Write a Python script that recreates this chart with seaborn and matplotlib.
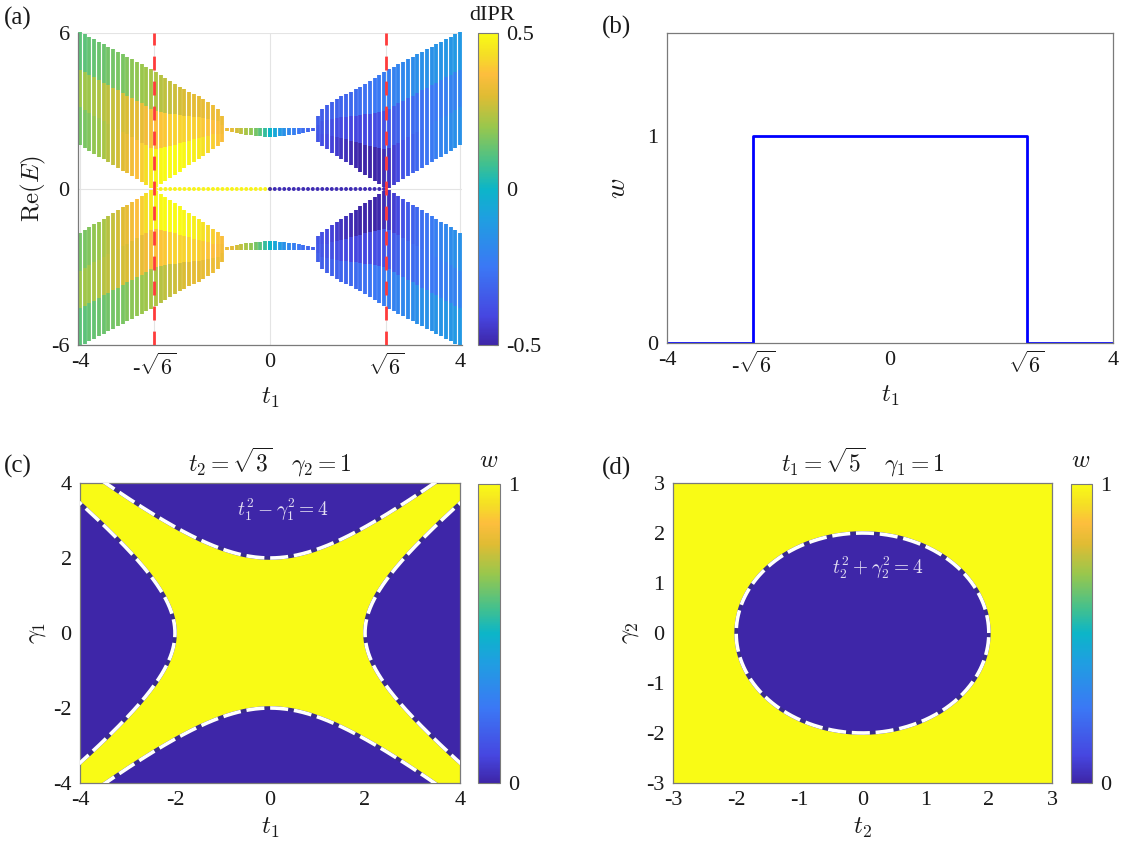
import numpy as np
import pandas as pd
import matplotlib
matplotlib.use("Agg")
import matplotlib.pyplot as plt
from matplotlib.colors import LinearSegmentedColormap, Normalize
from matplotlib.cm import ScalarMappable
import seaborn as sns

sns.set_theme(style="white")
plt.rcParams["font.family"] = "serif"
plt.rcParams["font.serif"] = ["Liberation Serif", "DejaVu Serif"]
plt.rcParams["mathtext.fontset"] = "cm"
plt.rcParams["axes.unicode_minus"] = False

SQ6 = 6 ** 0.5

# ---------------- data: panel (a), columns for t1 >= 0 (t1 < 0 is the mirror, dIPR flips sign)
t1_col = [0.0, 0.1, 0.2, 0.3, 0.4, 0.5, 0.6, 0.7, 0.8, 0.9,
          1.0, 1.1, 1.2, 1.3, 1.4, 1.5, 1.6, 1.7, 1.8, 1.9,
          2.0, 2.1, 2.2, 2.3, 2.4, 2.5, 2.6, 2.7, 2.8, 2.9,
          3.0, 3.1, 3.2, 3.3, 3.4, 3.5, 3.6, 3.7, 3.8, 3.9, 4.0]
# inner / outer edge of the positive Re(E) band
e_in = [2.00, 2.00, 2.02, 2.04, 2.06, 2.09, 2.12, 2.16, 2.20, 2.24,
        1.80, 1.65, 1.53, 1.40, 1.28, 1.16, 1.04, 0.92, 0.79, 0.67,
        0.55, 0.43, 0.31, 0.18, 0.06, 0.05, 0.16, 0.27, 0.38, 0.49,
        0.60, 0.71, 0.82, 0.93, 1.04, 1.14, 1.25, 1.36, 1.47, 1.58, 1.69]
e_out = [2.33, 2.33, 2.33, 2.33, 2.33, 2.33, 2.33, 2.33, 2.33, 2.33,
         2.80, 3.08, 3.23, 3.36, 3.46, 3.56, 3.65, 3.74, 3.83, 3.93,
         4.03, 4.14, 4.25, 4.37, 4.49, 4.60, 4.70, 4.80, 4.90, 4.99,
         5.09, 5.18, 5.28, 5.37, 5.47, 5.57, 5.66, 5.76, 5.85, 5.95, 6.04]
# dIPR read at inner edge, middle and outer edge of each column
d_in = [0.00, -0.06, -0.11, -0.15, -0.19, -0.22, -0.25, -0.28, -0.31, -0.33,
        -0.36, -0.38, -0.40, -0.42, -0.44, -0.46, -0.47, -0.48, -0.49, -0.50,
        -0.50, -0.50, -0.50, -0.49, -0.48, -0.46, -0.43, -0.40, -0.37, -0.34,
        -0.32, -0.30, -0.28, -0.26, -0.24, -0.22, -0.20, -0.19, -0.17, -0.16, -0.15]
d_mid = [0.00, -0.06, -0.11, -0.15, -0.19, -0.22, -0.25, -0.28, -0.31, -0.33,
         -0.35, -0.36, -0.37, -0.38, -0.39, -0.40, -0.40, -0.41, -0.41, -0.41,
         -0.41, -0.40, -0.39, -0.38, -0.37, -0.35, -0.34, -0.32, -0.31, -0.30,
         -0.29, -0.28, -0.27, -0.26, -0.25, -0.24, -0.23, -0.22, -0.21, -0.21, -0.20]
d_out = [0.00, -0.06, -0.11, -0.15, -0.19, -0.22, -0.25, -0.28, -0.31, -0.33,
         -0.33, -0.33, -0.33, -0.32, -0.32, -0.31, -0.31, -0.30, -0.29, -0.28,
         -0.27, -0.26, -0.25, -0.24, -0.23, -0.22, -0.21, -0.20, -0.19, -0.18,
         -0.17, -0.16, -0.16, -0.15, -0.15, -0.14, -0.14, -0.13, -0.13, -0.12, -0.12]
# zero-energy edge modes (t1 >= 0 side)
t1_zero = [0.0, 0.1, 0.2, 0.3, 0.4, 0.5, 0.6, 0.7, 0.8, 0.9, 1.0, 1.1, 1.2,
           1.3, 1.4, 1.5, 1.6, 1.7, 1.8, 1.9, 2.0, 2.1, 2.2, 2.3, 2.4]
d_zero = [-0.48] * len(t1_zero)

# ---------------- data: panel (b)
w_t1 = [-4.0, -SQ6, -SQ6, SQ6, SQ6, 4.0]
w_val = [0, 0, 1, 1, 0, 0]

# ---------------- data: panels (c), (d) phase boundaries
c_const = 4.0   # t1^2 - g1^2 = 4   (t2=sqrt3, g2=1)
d_const = 4.0   # t2^2 + g2^2 = 4   (t1=sqrt5, g1=1)

# parula-like colormap
parula = LinearSegmentedColormap.from_list("parula", [
    (0.00, "#3e26a8"), (0.09, "#4646e0"), (0.25, "#3b78f5"), (0.41, "#1ea0e0"),
    (0.50, "#0cb5c8"), (0.58, "#40c090"), (0.70, "#99c74c"), (0.80, "#e0bc33"),
    (0.87, "#fdbe3d"), (0.93, "#f5dd26"), (1.00, "#f9fb15")])

TXT = "#1a1a1a"
SPN = "#7a7a7a"


def style_axes(ax, box=True):
    for s in ax.spines.values():
        s.set_color(SPN)
        s.set_linewidth(0.9)
        s.set_visible(box)
    ax.spines["left"].set_visible(True)
    ax.spines["bottom"].set_visible(True)
    ax.tick_params(direction="in", length=4, width=0.8, colors=SPN,
                   labelcolor=TXT, labelsize=16, pad=6)


def style_cbar(cb):
    cb.outline.set_edgecolor(SPN)
    cb.outline.set_linewidth(0.8)
    cb.ax.tick_params(direction="in", length=3, width=0.8, colors=SPN,
                      labelcolor=TXT, labelsize=16, pad=6)


W, H = 1125, 865
fig = plt.figure(figsize=(W / 100, H / 100), dpi=100)


def box(x0, y0, x1, y1):
    return [x0 / W, 1 - y1 / H, (x1 - x0) / W, (y1 - y0) / H]


# ================= (a)
ax_a = fig.add_axes(box(78, 33, 462, 345))
cax_a = fig.add_axes(box(478, 33, 498, 345))
norm_a = Normalize(-0.5, 0.5)

rows = []
for t, lo, hi, a, b, c in zip(t1_col, e_in, e_out, d_in, d_mid, d_out):
    edges = [lo, lo + (hi - lo) / 3, lo + 2 * (hi - lo) / 3, hi]
    for side in (1, -1):
        for band in (1, -1):
            for k, d in enumerate((a, b, c)):
                rows.append((side * t, band * edges[k], band * edges[k + 1], side * d))
seg = pd.DataFrame(rows, columns=["t1", "y0", "y1", "dipr"])
ax_a.vlines(seg["t1"], seg["y0"], seg["y1"], colors=parula(norm_a(seg["dipr"])),
            linewidth=2.75, clip_on=False, zorder=2)

zero = pd.DataFrame({"t1": [-t for t in t1_zero] + t1_zero,
                     "E": [0.0] * (2 * len(t1_zero)),
                     "dipr": [-d for d in d_zero] + d_zero})
sns.scatterplot(data=zero, x="t1", y="E", hue="dipr", palette=parula,
                hue_norm=norm_a, s=8, linewidth=0, legend=False, ax=ax_a, zorder=3)

for xv in (-SQ6, SQ6):
    ax_a.axvline(xv, color="#ff3b3b", lw=2, dashes=(5, 4), zorder=4)

ax_a.set_xlim(-4.04, 4.04)
ax_a.set_ylim(-6, 6)
ax_a.set_xticks([-4, -SQ6, 0, SQ6, 4])
ax_a.set_xticklabels(["-4", r"-$\sqrt{6}$", "0", r"$\sqrt{6}$", "4"])
ax_a.set_yticks([-6, 0, 6])
ax_a.set_yticklabels(["-6", "0", "6"])
ax_a.grid(True, color="#e4e4e4", lw=0.8)
ax_a.set_axisbelow(True)
style_axes(ax_a, box=False)
ax_a.set_xlabel(r"$t_1$", fontsize=18, color=TXT, labelpad=4)
ax_a.set_ylabel(r"$\mathrm{Re}(E)$", fontsize=18, color=TXT, labelpad=2)

cb_a = fig.colorbar(ScalarMappable(norm_a, parula), cax=cax_a, ticks=[-0.5, 0, 0.5])
cb_a.ax.set_yticklabels(["-0.5", "0", "0.5"])
style_cbar(cb_a)
fig.text(492 / W, 1 - 15 / H, "dIPR", fontsize=16, color=TXT, ha="center", va="center")

# ================= (b)
ax_b = fig.add_axes(box(667, 33, 1113, 343))
df_b = pd.DataFrame({"t1": w_t1, "w": w_val})
sns.lineplot(data=df_b, x="t1", y="w", sort=False, estimator=None,
             color="#0000ff", lw=2, ax=ax_b)
ax_b.set_xlim(-4, 4)
ax_b.set_ylim(0, 1.5)
ax_b.set_xticks([-4, -SQ6, 0, SQ6, 4])
ax_b.set_xticklabels(["-4", r"-$\sqrt{6}$", "0", r"$\sqrt{6}$", "4"])
ax_b.set_yticks([0, 1])
ax_b.set_yticklabels(["0", "1"])
style_axes(ax_b, box=True)
ax_b.set_xlabel(r"$t_1$", fontsize=18, color=TXT, labelpad=4)
ax_b.set_ylabel(r"$w$", fontsize=20, color=TXT, labelpad=12)


def boundary(ax, x, y):
    ax.plot(x, y, color="#3a2c8c", lw=2.6, solid_capstyle="butt", zorder=3)
    ax.plot(x, y, color="white", lw=2.6, dashes=(5, 1.6), zorder=4)


# ================= (c)
ax_c = fig.add_axes(box(80, 483, 460, 783))
cax_c = fig.add_axes(box(478, 484, 500, 783))
tg = np.linspace(-4, 4, 801)
T1, G1 = np.meshgrid(tg, tg)
w_c = (np.abs(T1 ** 2 - G1 ** 2) < c_const).astype(float)
ax_c.imshow(w_c, extent=(-4, 4, -4, 4), origin="lower", cmap=parula,
            vmin=0, vmax=1, aspect="auto", interpolation="nearest")
gs = np.linspace(-4, 4, 400)
for sgn in (1, -1):
    boundary(ax_c, sgn * np.sqrt(c_const + gs ** 2), gs)
    boundary(ax_c, gs, sgn * np.sqrt(c_const + gs ** 2))
ax_c.text(0.27, 3.28, r"$t_1^2-\gamma_1^2=4$", color="#e2ddf2", fontsize=14,
          ha="center", va="center")
ax_c.set_xlim(-4, 4)
ax_c.set_ylim(-4, 4)
ax_c.set_xticks([-4, -2, 0, 2, 4])
ax_c.set_yticks([-4, -2, 0, 2, 4])
ax_c.set_xticklabels(["-4", "-2", "0", "2", "4"])
ax_c.set_yticklabels(["-4", "-2", "0", "2", "4"])
style_axes(ax_c, box=True)
ax_c.set_xlabel(r"$t_1$", fontsize=18, color=TXT, labelpad=4)
ax_c.set_ylabel(r"$\gamma_1$", fontsize=18, color=TXT, labelpad=4)
ax_c.set_title(r"$t_2=\sqrt{3}\ \ \ \gamma_2=1$", fontsize=17, color=TXT, pad=8)
cb_c = fig.colorbar(ScalarMappable(Normalize(0, 1), parula), cax=cax_c, ticks=[0, 1])
cb_c.ax.set_yticklabels(["0", "1"])
style_cbar(cb_c)
fig.text(489 / W, 1 - 461 / H, r"$w$", fontsize=18, color=TXT, ha="center", va="center")

# ================= (d)
ax_d = fig.add_axes(box(673, 483, 1052, 783))
cax_d = fig.add_axes(box(1071, 484, 1092, 783))
tg2 = np.linspace(-3, 3, 601)
T2, G2 = np.meshgrid(tg2, tg2)
w_d = (T2 ** 2 + G2 ** 2 > d_const).astype(float)
ax_d.imshow(w_d, extent=(-3, 3, -3, 3), origin="lower", cmap=parula,
            vmin=0, vmax=1, aspect="auto", interpolation="nearest")
th = np.linspace(0, 2 * np.pi, 500)
boundary(ax_d, np.sqrt(d_const) * np.cos(th), np.sqrt(d_const) * np.sin(th))
ax_d.text(0.25, 1.3, r"$t_2^2+\gamma_2^2=4$", color="#e2ddf2", fontsize=14,
          ha="center", va="center")
ax_d.set_xlim(-3, 3)
ax_d.set_ylim(-3, 3)
ax_d.set_xticks([-3, -2, -1, 0, 1, 2, 3])
ax_d.set_yticks([-3, -2, -1, 0, 1, 2, 3])
ax_d.set_xticklabels(["-3", "-2", "-1", "0", "1", "2", "3"])
ax_d.set_yticklabels(["-3", "-2", "-1", "0", "1", "2", "3"])
style_axes(ax_d, box=True)
ax_d.set_xlabel(r"$t_2$", fontsize=18, color=TXT, labelpad=4)
ax_d.set_ylabel(r"$\gamma_2$", fontsize=18, color=TXT, labelpad=4)
ax_d.set_title(r"$t_1=\sqrt{5}\ \ \ \gamma_1=1$", fontsize=17, color=TXT, pad=8)
cb_d = fig.colorbar(ScalarMappable(Normalize(0, 1), parula), cax=cax_d, ticks=[0, 1])
cb_d.ax.set_yticklabels(["0", "1"])
style_cbar(cb_d)
fig.text(1081 / W, 1 - 461 / H, r"$w$", fontsize=18, color=TXT, ha="center", va="center")

# panel labels
for lab, x, y in [("(a)", 4, 18), ("(b)", 602, 27), ("(c)", 4, 466), ("(d)", 602, 468)]:
    fig.text(x / W, 1 - y / H, lab, fontsize=18, color=TXT, ha="left", va="center")

fig.savefig("out.png", dpi=100)
